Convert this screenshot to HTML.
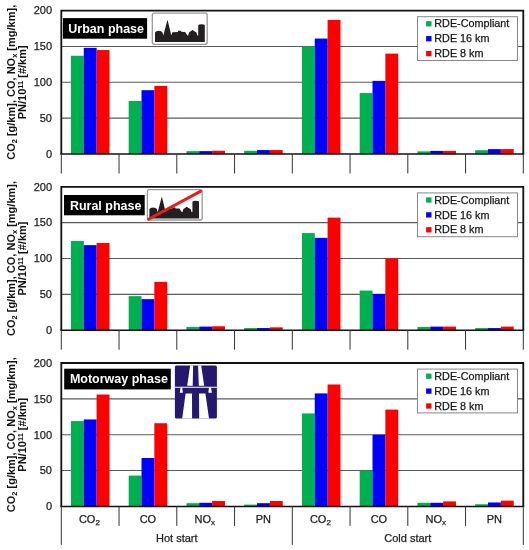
<!DOCTYPE html><html><head><meta charset="utf-8"><style>html,body{margin:0;padding:0;background:#fff;}svg{display:block;filter:blur(0.35px);}text{font-family:"Liberation Sans",Arial,sans-serif;}text.r{stroke:#222;stroke-width:0.25px;}</style></head><body>
<svg width="529" height="550" viewBox="0 0 529 550">
<rect width="529" height="550" fill="#fff"/>
<line x1="61.3" x2="523.3" y1="118.15" y2="118.15" stroke="#5a5a5a" stroke-width="1.1"/>
<line x1="61.3" x2="523.3" y1="82.3" y2="82.3" stroke="#5a5a5a" stroke-width="1.1"/>
<line x1="61.3" x2="523.3" y1="46.45" y2="46.45" stroke="#5a5a5a" stroke-width="1.1"/>
<rect x="70.92" y="55.77" width="12.88" height="98.23" fill="#00B050"/>
<rect x="83.76" y="47.88" width="12.88" height="106.12" fill="#0000FF"/>
<rect x="96.59" y="50.03" width="12.88" height="103.97" fill="#FF0000"/>
<rect x="128.67" y="100.94" width="12.88" height="53.06" fill="#00B050"/>
<rect x="141.51" y="90.19" width="12.88" height="63.81" fill="#0000FF"/>
<rect x="154.34" y="85.88" width="12.88" height="68.12" fill="#FF0000"/>
<rect x="186.42" y="151.13" width="12.88" height="2.87" fill="#00B050"/>
<rect x="199.26" y="151.13" width="12.88" height="2.87" fill="#0000FF"/>
<rect x="212.09" y="150.77" width="12.88" height="3.23" fill="#FF0000"/>
<rect x="244.17" y="150.77" width="12.88" height="3.23" fill="#00B050"/>
<rect x="257.01" y="150.06" width="12.88" height="3.94" fill="#0000FF"/>
<rect x="269.84" y="150.06" width="12.88" height="3.94" fill="#FF0000"/>
<rect x="301.92" y="46.45" width="12.88" height="107.55" fill="#00B050"/>
<rect x="314.76" y="38.56" width="12.88" height="115.44" fill="#0000FF"/>
<rect x="327.59" y="19.92" width="12.88" height="134.08" fill="#FF0000"/>
<rect x="359.67" y="93.05" width="12.88" height="60.95" fill="#00B050"/>
<rect x="372.51" y="80.87" width="12.88" height="73.13" fill="#0000FF"/>
<rect x="385.34" y="53.62" width="12.88" height="100.38" fill="#FF0000"/>
<rect x="417.42" y="151.35" width="12.88" height="2.65" fill="#00B050"/>
<rect x="430.26" y="150.92" width="12.88" height="3.08" fill="#0000FF"/>
<rect x="443.09" y="150.92" width="12.88" height="3.08" fill="#FF0000"/>
<rect x="475.17" y="150.2" width="12.88" height="3.8" fill="#00B050"/>
<rect x="488.01" y="149.12" width="12.88" height="4.88" fill="#0000FF"/>
<rect x="500.84" y="149.12" width="12.88" height="4.88" fill="#FF0000"/>
<path d="M61.3 154 V10.6 H523.3 V154" fill="none" stroke="#111" stroke-width="1.8" stroke-linejoin="miter"/>
<line x1="60.4" x2="524.2" y1="154" y2="154" stroke="#111" stroke-width="1.5"/>
<line x1="61.3" x2="61.3" y1="154" y2="173.5" stroke="#333" stroke-width="1"/>
<line x1="119.05" x2="119.05" y1="154" y2="173.5" stroke="#333" stroke-width="1"/>
<line x1="176.8" x2="176.8" y1="154" y2="173.5" stroke="#333" stroke-width="1"/>
<line x1="234.55" x2="234.55" y1="154" y2="173.5" stroke="#333" stroke-width="1"/>
<line x1="292.3" x2="292.3" y1="154" y2="173.5" stroke="#333" stroke-width="1"/>
<line x1="350.05" x2="350.05" y1="154" y2="173.5" stroke="#333" stroke-width="1"/>
<line x1="407.8" x2="407.8" y1="154" y2="173.5" stroke="#333" stroke-width="1"/>
<line x1="465.55" x2="465.55" y1="154" y2="173.5" stroke="#333" stroke-width="1"/>
<line x1="523.3" x2="523.3" y1="154" y2="173.5" stroke="#333" stroke-width="1"/>
<text class="r" x="52" y="157.8" font-size="11" text-anchor="end" fill="#222">0</text>
<text class="r" x="52" y="121.95" font-size="11" text-anchor="end" fill="#222">50</text>
<text class="r" x="52" y="86.1" font-size="11" text-anchor="end" fill="#222">100</text>
<text class="r" x="52" y="50.25" font-size="11" text-anchor="end" fill="#222">150</text>
<text class="r" x="52" y="14.4" font-size="11" text-anchor="end" fill="#222">200</text>
<text transform="translate(14.6 82.3) rotate(-90)" text-anchor="middle" font-size="11" font-weight="bold" fill="#111">CO<tspan font-size="7.5" dy="2">2</tspan><tspan dy="-2"> [g/km], CO, NO</tspan><tspan font-size="7.5" dy="2">x</tspan><tspan dy="-2"> [mg/km],</tspan></text>
<text transform="translate(26.4 82.3) rotate(-90)" text-anchor="middle" font-size="11" font-weight="bold" fill="#111">PN/10<tspan font-size="7.5" dy="-3.6">11</tspan><tspan dy="3.6"> [#/km]</tspan></text>
<rect x="417.5" y="16.7" width="100" height="43.8" fill="#fff" stroke="#888" stroke-width="1"/>
<rect x="426.1" y="21.15" width="5.4" height="5.3" fill="#00B050"/>
<text class="r" x="434.3" y="27.45" font-size="10.8" fill="#111">RDE-Compliant</text>
<rect x="426.1" y="36.05" width="5.4" height="5.3" fill="#0000FF"/>
<text class="r" x="434.3" y="42.35" font-size="10.8" fill="#111">RDE 16 km</text>
<rect x="426.1" y="50.95" width="5.4" height="5.3" fill="#FF0000"/>
<text class="r" x="434.3" y="57.25" font-size="10.8" fill="#111">RDE 8 km</text>
<line x1="61.3" x2="523.3" y1="294.35" y2="294.35" stroke="#5a5a5a" stroke-width="1.1"/>
<line x1="61.3" x2="523.3" y1="258.5" y2="258.5" stroke="#5a5a5a" stroke-width="1.1"/>
<line x1="61.3" x2="523.3" y1="222.65" y2="222.65" stroke="#5a5a5a" stroke-width="1.1"/>
<rect x="70.92" y="241.01" width="12.88" height="89.19" fill="#00B050"/>
<rect x="83.76" y="245.16" width="12.88" height="85.04" fill="#0000FF"/>
<rect x="96.59" y="243.01" width="12.88" height="87.19" fill="#FF0000"/>
<rect x="128.67" y="296.14" width="12.88" height="34.06" fill="#00B050"/>
<rect x="141.51" y="299.15" width="12.88" height="31.05" fill="#0000FF"/>
<rect x="154.34" y="281.87" width="12.88" height="48.33" fill="#FF0000"/>
<rect x="186.42" y="326.97" width="12.88" height="3.23" fill="#00B050"/>
<rect x="199.26" y="326.62" width="12.88" height="3.59" fill="#0000FF"/>
<rect x="212.09" y="326.26" width="12.88" height="3.94" fill="#FF0000"/>
<rect x="244.17" y="328.05" width="12.88" height="2.15" fill="#00B050"/>
<rect x="257.01" y="328.05" width="12.88" height="2.15" fill="#0000FF"/>
<rect x="269.84" y="327.33" width="12.88" height="2.87" fill="#FF0000"/>
<rect x="301.92" y="233.05" width="12.88" height="97.15" fill="#00B050"/>
<rect x="314.76" y="237.85" width="12.88" height="92.35" fill="#0000FF"/>
<rect x="327.59" y="217.63" width="12.88" height="112.57" fill="#FF0000"/>
<rect x="359.67" y="290.55" width="12.88" height="39.65" fill="#00B050"/>
<rect x="372.51" y="293.99" width="12.88" height="36.21" fill="#0000FF"/>
<rect x="385.34" y="258.5" width="12.88" height="71.7" fill="#FF0000"/>
<rect x="417.42" y="326.97" width="12.88" height="3.23" fill="#00B050"/>
<rect x="430.26" y="326.62" width="12.88" height="3.59" fill="#0000FF"/>
<rect x="443.09" y="326.62" width="12.88" height="3.59" fill="#FF0000"/>
<rect x="475.17" y="328.05" width="12.88" height="2.15" fill="#00B050"/>
<rect x="488.01" y="328.05" width="12.88" height="2.15" fill="#0000FF"/>
<rect x="500.84" y="326.62" width="12.88" height="3.59" fill="#FF0000"/>
<path d="M61.3 330.2 V186.8 H523.3 V330.2" fill="none" stroke="#111" stroke-width="1.8" stroke-linejoin="miter"/>
<line x1="60.4" x2="524.2" y1="330.2" y2="330.2" stroke="#111" stroke-width="1.5"/>
<line x1="61.3" x2="61.3" y1="330.2" y2="349.7" stroke="#333" stroke-width="1"/>
<line x1="119.05" x2="119.05" y1="330.2" y2="349.7" stroke="#333" stroke-width="1"/>
<line x1="176.8" x2="176.8" y1="330.2" y2="349.7" stroke="#333" stroke-width="1"/>
<line x1="234.55" x2="234.55" y1="330.2" y2="349.7" stroke="#333" stroke-width="1"/>
<line x1="292.3" x2="292.3" y1="330.2" y2="349.7" stroke="#333" stroke-width="1"/>
<line x1="350.05" x2="350.05" y1="330.2" y2="349.7" stroke="#333" stroke-width="1"/>
<line x1="407.8" x2="407.8" y1="330.2" y2="349.7" stroke="#333" stroke-width="1"/>
<line x1="465.55" x2="465.55" y1="330.2" y2="349.7" stroke="#333" stroke-width="1"/>
<line x1="523.3" x2="523.3" y1="330.2" y2="349.7" stroke="#333" stroke-width="1"/>
<text class="r" x="52" y="334" font-size="11" text-anchor="end" fill="#222">0</text>
<text class="r" x="52" y="298.15" font-size="11" text-anchor="end" fill="#222">50</text>
<text class="r" x="52" y="262.3" font-size="11" text-anchor="end" fill="#222">100</text>
<text class="r" x="52" y="226.45" font-size="11" text-anchor="end" fill="#222">150</text>
<text class="r" x="52" y="190.6" font-size="11" text-anchor="end" fill="#222">200</text>
<text transform="translate(14.6 258.5) rotate(-90)" text-anchor="middle" font-size="11" font-weight="bold" fill="#111">CO<tspan font-size="7.5" dy="2">2</tspan><tspan dy="-2"> [g/km], CO, NO</tspan><tspan font-size="7.5" dy="2">x</tspan><tspan dy="-2"> [mg/km],</tspan></text>
<text transform="translate(26.4 258.5) rotate(-90)" text-anchor="middle" font-size="11" font-weight="bold" fill="#111">PN/10<tspan font-size="7.5" dy="-3.6">11</tspan><tspan dy="3.6"> [#/km]</tspan></text>
<rect x="417.5" y="192.9" width="100" height="43.8" fill="#fff" stroke="#888" stroke-width="1"/>
<rect x="426.1" y="197.35" width="5.4" height="5.3" fill="#00B050"/>
<text class="r" x="434.3" y="203.65" font-size="10.8" fill="#111">RDE-Compliant</text>
<rect x="426.1" y="212.25" width="5.4" height="5.3" fill="#0000FF"/>
<text class="r" x="434.3" y="218.55" font-size="10.8" fill="#111">RDE 16 km</text>
<rect x="426.1" y="227.15" width="5.4" height="5.3" fill="#FF0000"/>
<text class="r" x="434.3" y="233.45" font-size="10.8" fill="#111">RDE 8 km</text>
<line x1="61.3" x2="523.3" y1="470.55" y2="470.55" stroke="#5a5a5a" stroke-width="1.1"/>
<line x1="61.3" x2="523.3" y1="434.7" y2="434.7" stroke="#5a5a5a" stroke-width="1.1"/>
<line x1="61.3" x2="523.3" y1="398.85" y2="398.85" stroke="#5a5a5a" stroke-width="1.1"/>
<rect x="70.92" y="421.08" width="12.88" height="85.32" fill="#00B050"/>
<rect x="83.76" y="419.43" width="12.88" height="86.97" fill="#0000FF"/>
<rect x="96.59" y="394.55" width="12.88" height="111.85" fill="#FF0000"/>
<rect x="128.67" y="475.57" width="12.88" height="30.83" fill="#00B050"/>
<rect x="141.51" y="458" width="12.88" height="48.4" fill="#0000FF"/>
<rect x="154.34" y="423.23" width="12.88" height="83.17" fill="#FF0000"/>
<rect x="186.42" y="503.17" width="12.88" height="3.23" fill="#00B050"/>
<rect x="199.26" y="502.81" width="12.88" height="3.59" fill="#0000FF"/>
<rect x="212.09" y="501.02" width="12.88" height="5.38" fill="#FF0000"/>
<rect x="244.17" y="504.61" width="12.88" height="1.79" fill="#00B050"/>
<rect x="257.01" y="503.17" width="12.88" height="3.23" fill="#0000FF"/>
<rect x="269.84" y="501.02" width="12.88" height="5.38" fill="#FF0000"/>
<rect x="301.92" y="413.41" width="12.88" height="92.99" fill="#00B050"/>
<rect x="314.76" y="393.4" width="12.88" height="113" fill="#0000FF"/>
<rect x="327.59" y="384.51" width="12.88" height="121.89" fill="#FF0000"/>
<rect x="359.67" y="470.55" width="12.88" height="35.85" fill="#00B050"/>
<rect x="372.51" y="434.7" width="12.88" height="71.7" fill="#0000FF"/>
<rect x="385.34" y="409.6" width="12.88" height="96.8" fill="#FF0000"/>
<rect x="417.42" y="502.81" width="12.88" height="3.59" fill="#00B050"/>
<rect x="430.26" y="502.81" width="12.88" height="3.59" fill="#0000FF"/>
<rect x="443.09" y="501.38" width="12.88" height="5.02" fill="#FF0000"/>
<rect x="475.17" y="504.25" width="12.88" height="2.15" fill="#00B050"/>
<rect x="488.01" y="502.46" width="12.88" height="3.94" fill="#0000FF"/>
<rect x="500.84" y="500.66" width="12.88" height="5.74" fill="#FF0000"/>
<path d="M61.3 506.4 V363 H523.3 V506.4" fill="none" stroke="#111" stroke-width="1.8" stroke-linejoin="miter"/>
<line x1="60.4" x2="524.2" y1="506.4" y2="506.4" stroke="#111" stroke-width="1.5"/>
<line x1="61.3" x2="61.3" y1="506.4" y2="544.9" stroke="#333" stroke-width="1"/>
<line x1="119.05" x2="119.05" y1="506.4" y2="525.9" stroke="#333" stroke-width="1"/>
<line x1="176.8" x2="176.8" y1="506.4" y2="525.9" stroke="#333" stroke-width="1"/>
<line x1="234.55" x2="234.55" y1="506.4" y2="525.9" stroke="#333" stroke-width="1"/>
<line x1="292.3" x2="292.3" y1="506.4" y2="544.9" stroke="#333" stroke-width="1"/>
<line x1="350.05" x2="350.05" y1="506.4" y2="525.9" stroke="#333" stroke-width="1"/>
<line x1="407.8" x2="407.8" y1="506.4" y2="525.9" stroke="#333" stroke-width="1"/>
<line x1="465.55" x2="465.55" y1="506.4" y2="525.9" stroke="#333" stroke-width="1"/>
<line x1="523.3" x2="523.3" y1="506.4" y2="544.9" stroke="#333" stroke-width="1"/>
<text class="r" x="52" y="510.2" font-size="11" text-anchor="end" fill="#222">0</text>
<text class="r" x="52" y="474.35" font-size="11" text-anchor="end" fill="#222">50</text>
<text class="r" x="52" y="438.5" font-size="11" text-anchor="end" fill="#222">100</text>
<text class="r" x="52" y="402.65" font-size="11" text-anchor="end" fill="#222">150</text>
<text class="r" x="52" y="366.8" font-size="11" text-anchor="end" fill="#222">200</text>
<text transform="translate(14.6 434.7) rotate(-90)" text-anchor="middle" font-size="11" font-weight="bold" fill="#111">CO<tspan font-size="7.5" dy="2">2</tspan><tspan dy="-2"> [g/km], CO, NO</tspan><tspan font-size="7.5" dy="2">x</tspan><tspan dy="-2"> [mg/km],</tspan></text>
<text transform="translate(26.4 434.7) rotate(-90)" text-anchor="middle" font-size="11" font-weight="bold" fill="#111">PN/10<tspan font-size="7.5" dy="-3.6">11</tspan><tspan dy="3.6"> [#/km]</tspan></text>
<rect x="417.5" y="369.1" width="100" height="43.8" fill="#fff" stroke="#888" stroke-width="1"/>
<rect x="426.1" y="373.55" width="5.4" height="5.3" fill="#00B050"/>
<text class="r" x="434.3" y="379.85" font-size="10.8" fill="#111">RDE-Compliant</text>
<rect x="426.1" y="388.45" width="5.4" height="5.3" fill="#0000FF"/>
<text class="r" x="434.3" y="394.75" font-size="10.8" fill="#111">RDE 16 km</text>
<rect x="426.1" y="403.35" width="5.4" height="5.3" fill="#FF0000"/>
<text class="r" x="434.3" y="409.65" font-size="10.8" fill="#111">RDE 8 km</text>
<rect x="62.9" y="18.1" width="84.2" height="20.6" fill="#000"/>
<text x="68.3" y="32.6" font-size="12.5" font-weight="bold" fill="#fff">Urban phase</text>
<rect x="64" y="195" width="80.7" height="20.3" fill="#000"/>
<text x="69.9" y="209.6" font-size="12.5" font-weight="bold" fill="#fff">Rural phase</text>
<rect x="64.2" y="368.7" width="106.6" height="20.7" fill="#000"/>
<text x="69.9" y="383.1" font-size="12.5" font-weight="bold" fill="#fff">Motorway phase</text>
<rect x="152.3" y="13.2" width="54.9" height="31.1" rx="2" fill="#fff" stroke="#9a9a9a" stroke-width="1.3"/>
<path d="M155 41.9V32.4Q156 30.8 158.7 30.8Q161.5 30.8 162.5 32.4L163.3 35.6L167.5 19.8L171.3 35.4L172.3 32.2L177.8 31.9L178.3 30.8L180.8 30.8L181.3 31.8L185.2 31.9L187.4 35.4L188.2 35.4L189 32.6L192.4 30.1L196.5 32.6L197.3 35.4L198.2 35.4L198.2 25.5Q198.4 24.6 199.5 24.5L201.2 24.2L203.5 24.5Q204.7 24.6 204.8 25.5V41.9Z" fill="#231f20"/>
<rect x="147.4" y="189.7" width="54.8" height="30.3" rx="2" fill="#fff" stroke="#9a9a9a" stroke-width="1.3"/>
<path transform="matrix(0.996 0 0 1 -4.98 176.6)" d="M155 41.9V32.4Q156 30.8 158.7 30.8Q161.5 30.8 162.5 32.4L163.3 35.6L167.5 19.8L171.3 35.4L172.3 32.2L177.8 31.9L178.3 30.8L180.8 30.8L181.3 31.8L185.2 31.9L187.4 35.4L188.2 35.4L189 32.6L192.4 30.1L196.5 32.6L197.3 35.4L198.2 35.4L198.2 25.5Q198.4 24.6 199.5 24.5L201.2 24.2L203.5 24.5Q204.7 24.6 204.8 25.5V41.9Z" fill="#231f20"/>
<line x1="148.5" y1="219.3" x2="200.4" y2="191.4" stroke="#e3201b" stroke-width="3" stroke-linecap="round"/>
<rect x="174.9" y="365.6" width="42" height="53" rx="1.6" fill="#26186e"/>
<path d="M190.1 365.6H193.1L192.7 385.8H187.2Z M198.1 365.6H201.2L204.2 385.8H198.8Z" fill="#fff"/>
<rect x="174.9" y="386.75" width="42" height="1" fill="#fff"/>
<path d="M180.6 387.6H182.2L182.9 392.7H179.7Z M209 387.6H211L211.9 392.7H208.3Z" fill="#fff"/>
<path d="M185.6 393.6H192L192.1 418.6H182.2Z M199 393.6H205.4L209 418.6H199.2Z" fill="#fff"/>
<text class="r" x="89.38" y="523" font-size="11" text-anchor="middle" fill="#222">CO<tspan font-size="8" dy="2.2">2</tspan></text>
<text class="r" x="147.92" y="523" font-size="11" text-anchor="middle" fill="#222">CO</text>
<text class="r" x="204.87" y="523" font-size="11" text-anchor="middle" fill="#222">NO<tspan font-size="8" dy="2.2">x</tspan></text>
<text class="r" x="263.42" y="523" font-size="11" text-anchor="middle" fill="#222">PN</text>
<text class="r" x="320.37" y="523" font-size="11" text-anchor="middle" fill="#222">CO<tspan font-size="8" dy="2.2">2</tspan></text>
<text class="r" x="378.92" y="523" font-size="11" text-anchor="middle" fill="#222">CO</text>
<text class="r" x="435.87" y="523" font-size="11" text-anchor="middle" fill="#222">NO<tspan font-size="8" dy="2.2">x</tspan></text>
<text class="r" x="494.42" y="523" font-size="11" text-anchor="middle" fill="#222">PN</text>
<text class="r" x="176.8" y="542" font-size="11" text-anchor="middle" fill="#222">Hot start</text>
<text class="r" x="407.8" y="542" font-size="11" text-anchor="middle" fill="#222">Cold start</text>
</svg></body></html>
